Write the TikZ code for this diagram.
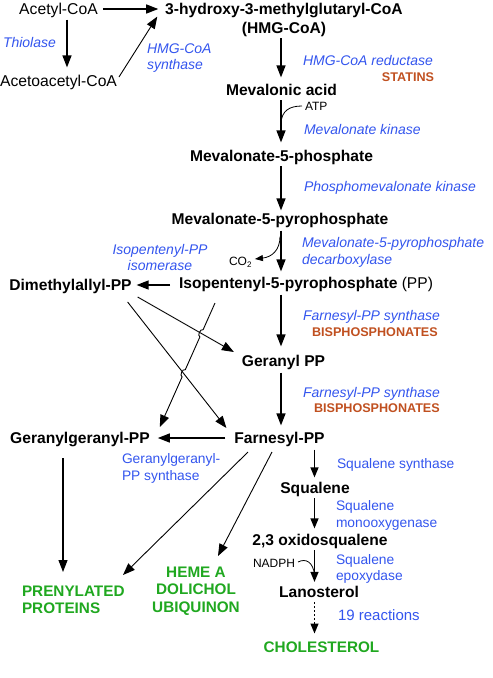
\documentclass[tikz,border=0pt]{standalone}
\usepackage{fontspec}
\setmainfont{Liberation Sans}
\usetikzlibrary{arrows.meta,calc}
\definecolor{enz}{RGB}{51,85,238}
\definecolor{drug}{RGB}{192,80,32}
\definecolor{prod}{RGB}{32,168,32}
\tikzset{
  every node/.style={inner sep=0pt, outer sep=0pt, text depth=0pt},
  met/.style={font=\fontsize{15.6}{19}\selectfont\bfseries, text height=11.2pt},
  reg/.style={font=\fontsize{15.7}{19}\selectfont, text height=11.2pt},
  sml/.style={font=\fontsize{12}{14}\selectfont, text height=8.6pt},
  enzi/.style={font=\fontsize{14}{16.5}\selectfont\itshape, text=enz, text height=10pt},
  enzr/.style={font=\fontsize{13.8}{16.5}\selectfont, text=enz, text height=9.9pt},
  drugs/.style={font=\fontsize{12.6}{15}\selectfont\bfseries, text=drug, text height=9pt},
  prodt/.style={font=\fontsize{15.3}{17.5}\selectfont\bfseries, text=prod, text height=11pt},
  flow/.style={line width=1.3pt, -{Triangle[length=12pt,width=9pt]}},
  main/.style={flow, shorten <=5pt, shorten >=6pt},
  sflow/.style={line width=1.2pt, -{Triangle[length=10pt,width=8pt]}, shorten <=5pt, shorten >=5pt},
  link/.style={line width=0.9pt, -{Triangle[length=12pt,width=9pt]}},
  thinc/.style={line width=0.8pt},
}
\begin{document}
\begin{tikzpicture}[x=1pt,y=-1pt]
\useasboundingbox (0,0) rectangle (493,678);
\coordinate (ax) at (281,0);
\coordinate (bx) at (314.5,0);
% metabolites
\node[reg] (acetyl) at (58.5,9) {Acetyl-CoA};
\node[met] (hmg) at (284,9) {3-hydroxy-3-methylglutaryl-CoA};
\node[met] (hmgab) at (284,28) {(HMG-CoA)};
\node[reg] (acac) at (58.5,81) {Acetoacetyl-CoA};
\node[met] (mev) at (281.5,90) {Mevalonic acid};
\node[met] (m5p) at (281.5,156) {Mevalonate-5-phosphate};
\node[met] (m5pp) at (280,219) {Mevalonate-5-pyrophosphate};
\node[met, anchor=west] (ipp) at (179,283) {Isopentenyl-5-pyrophosphate\textmd{ (PP)}};
\node[met] (dma) at (70.5,285) {Dimethylallyl-PP};
\node[met] (gpp) at (283.5,361) {Geranyl PP};
\node[met] (fpp) at (279.5,438) {Farnesyl-PP};
\node[met] (ggpp) at (80,438) {Geranylgeranyl-PP};
\node[met] (sq) at (315,488) {Squalene};
\node[met] (oxs) at (320,540) {2,3 oxidosqualene};
\node[met] (lan) at (319,592) {Lanosterol};
\node[prodt] (chol) at (321.5,647) {CHOLESTEROL};
\node[prodt, align=left, anchor=west] (prenyl) at (22,608) {PRENYLATED\\PROTEINS};
\node[prodt, align=center] (heme) at (196,606.5) {HEME A\\DOLICHOL\\UBIQUINON};
% enzymes and drugs
\node[enzi, anchor=west] (thio) at (3,42) {Thiolase};
\node[enzi, anchor=west, align=left] (hmgs) at (147,64.5) {HMG-CoA\\synthase};
\node[enzi, anchor=west] (hmgr) at (303,60) {HMG-CoA reductase};
\node[drugs, anchor=east] (stat) at (434,77) {STATINS};
\node[enzi, anchor=west] (mk) at (304,129) {Mevalonate kinase};
\node[enzi, anchor=west] (pmk) at (304,186) {Phosphomevalonate kinase};
\node[enzi, anchor=west, align=left] (mpd) at (302,259) {Mevalonate-5-pyrophosphate\\decarboxylase};
\node[enzi, align=center] (iso) at (160,265.5) {Isopentenyl-PP\\isomerase};
\node[enzi, anchor=west] (fps1) at (303,315) {Farnesyl-PP synthase};
\node[drugs, anchor=west] (bis1) at (312,332) {BISPHOSPHONATES};
\node[enzi, anchor=west] (fps2) at (303,392) {Farnesyl-PP synthase};
\node[drugs, anchor=west] (bis2) at (314,408) {BISPHOSPHONATES};
\node[enzr, anchor=west, align=left] (ggs) at (122,475.5) {Geranylgeranyl-\\PP synthase};
\node[enzr, anchor=west] (sqs) at (337,464) {Squalene synthase};
\node[enzr, anchor=west, align=left] (sqmo) at (336,522.5) {Squalene\\monooxygenase};
\node[enzr, anchor=west, align=left] (sqep) at (336,576) {Squalene\\epoxydase};
\node[enzr, anchor=west, font=\fontsize{15}{18}\selectfont, text height=10.8pt] (r19) at (338,615) {19 reactions};
% cofactors
\node[sml, anchor=west] (atp) at (305,106) {ATP};
\node[sml, anchor=west] (co2) at (229,261) {CO\textsubscript{2}};
\node[sml, anchor=west] (nadph) at (253,563) {NADPH};
% top
\draw[flow, shorten <=5pt, shorten >=7pt] (acetyl.east) -- (hmg.west);
\draw[flow] ($(acetyl.south)+(8.5,5)$) -- ($(acac.north)+(8.5,-8)$);
\draw[link] ($(acac.east)+(2,-4)$) -- ($(hmg.south west)+(-8,2)$);
% main column
\draw[main, shorten <=4.4pt, shorten >=7pt] (hmgab.south -| ax) -- (mev.north -| ax);
\draw[main, shorten <=4.4pt, shorten >=8pt] (mev.south -| ax) -- (m5p.north -| ax);
\draw[main, shorten <=4.4pt, shorten >=3pt] (m5p.south -| ax) -- (m5pp.north -| ax);
\draw[main, shorten <=6pt, shorten >=6pt] (m5pp.south -| ax) -- (ipp.north -| ax);
\draw[main, shorten <=6pt, shorten >=9pt] (ipp.south -| ax) -- (gpp.north -| ax);
\draw[main, shorten <=6pt, shorten >=7pt] (gpp.south -| ax) -- (fpp.north -| ax);
% cofactor curves
\draw[thinc] ($(atp.west)+(-3,0)$) .. controls (289,106) and (282,111) .. ($(mev.south -| ax)+(0,27)$);
\draw[thinc, -{Triangle[length=8pt,width=6pt]}] ($(m5pp.south -| ax)+(-1,12)$) .. controls (280,250) and (272,257) .. ($(co2.east)+(3,-2)$);
\draw[thinc] ($(nadph.east)+(3,-1)$) .. controls (306,558) and (313,562) .. ($(oxs.south -| bx)+(0,29)$);
% horizontals
\draw[flow, shorten <=9pt, shorten >=5pt] (ipp.west |- dma.east) -- (dma.east);
\draw[flow, shorten <=9pt, shorten >=8pt] (fpp.west) -- (ggpp.east);
% sterol branch
\draw[sflow, shorten <=6pt, shorten >=5pt] (fpp.south -| bx) -- (sq.north -| bx);
\draw[sflow, shorten <=4.5pt, shorten >=6pt] (sq.south -| bx) -- (oxs.north -| bx);
\draw[sflow, shorten <=4.5pt, shorten >=4.5pt] (oxs.south -| bx) -- (lan.north -| bx);
\draw[sflow, dash pattern=on 2pt off 2pt, shorten <=4.5pt, shorten >=8pt] (lan.south -| bx) -- (chol.north -| bx);
% diagonal links
\draw[link] ($(dma.east)+(6,12)$) -- ($(gpp.west)+(-8,-9)$);
\draw[link] ($(dma.east)+(-4,17)$) -- ($(fpp.west)+(-8,-10)$);
\coordinate (i1) at ($(ipp.west)+(36,20)$);
\coordinate (g1) at ($(ggpp.east)+(10,-11)$);
\draw[link] (i1) -- ($(i1)!0.2153!(g1)$) to[bend right=90] ($(i1)!0.2739!(g1)$)
  -- ($(i1)!0.5374!(g1)$) to[bend right=90] ($(i1)!0.5960!(g1)$) -- (g1);
\draw[link] ($(fpp.south)+(-31.5,8.4)$) -- ($(prenyl.west)+(101,-33)$);
\draw[link] ($(fpp.south)+(-7.5,8.4)$) -- ($(heme.center)+(22,-50.5)$);
\draw[flow, line width=1.1pt] ($(ggpp.south)+(-17,14.4)$) -- ($(prenyl.west)+(41,-36)$);
\end{tikzpicture}
\end{document}
